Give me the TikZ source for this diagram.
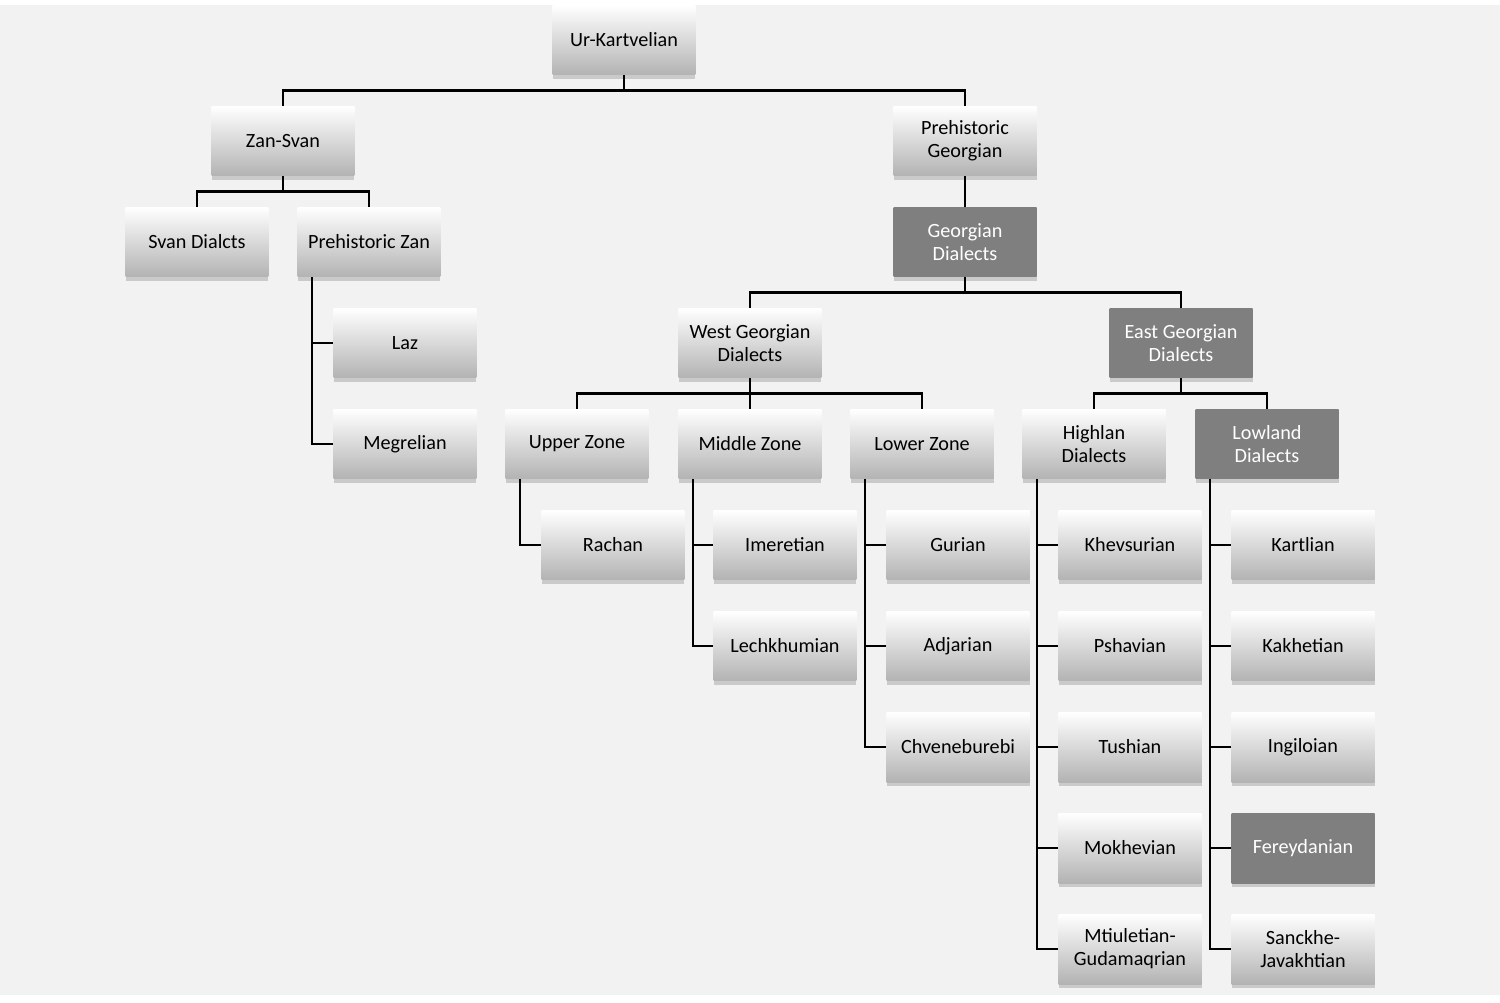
\documentclass[tikz,border=0pt]{standalone}
\usepackage{fontspec}
\setmainfont{Carlito}
\usetikzlibrary{shadows,calc}
\definecolor{bg}{HTML}{F2F2F2}
\definecolor{dark}{HTML}{7F7F7F}
\tikzset{
  box/.style={rectangle, minimum width=2.86cm, minimum height=1.4cm, align=center,
    font=\fontsize{11.5}{13}\selectfont, top color=white, bottom color=black!30,
    drop shadow={opacity=0.35, shadow xshift=0pt, shadow yshift=-2pt}},
  dbox/.style={box, top color=dark, bottom color=dark, text=white},
  link/.style={line width=1.2pt, black}
}
\begin{document}
\begin{tikzpicture}
  [x=0.02cm, y=-0.02cm]
  \useasboundingbox (0,0) rectangle (1500,1003);
  \fill[white] (0,0) rectangle (1500,1003);
  \fill[bg] (0,5) rectangle (1500,995);

  \node[box] (ur) at (624,40) {Ur-Kartvelian};
  \node[box] (zs) at (283,141) {Zan-Svan};
  \node[box] (pg) at (965,141) {Prehistoric\\Georgian};
  \node[box] (sd) at (197,242) {Svan Dialcts};
  \node[box] (pz) at (369,242) {Prehistoric Zan};
  \node[dbox] (gd) at (965,242) {Georgian\\Dialects};
  \node[box] (laz) at (405,343) {Laz};
  \node[box] (meg) at (405,444) {Megrelian};
  \node[box] (wg) at (750,343) {West Georgian\\Dialects};
  \node[dbox] (eg) at (1181,343) {East Georgian\\Dialects};

  \node[box] (uz) at (577,444) {Upper Zone};
  \node[box] (mz) at (750,444) {Middle Zone};
  \node[box] (lz) at (922,444) {Lower Zone};
  \node[box] (hd) at (1094,444) {Highlan\\Dialects};
  \node[dbox] (ld) at (1267,444) {Lowland\\Dialects};

  \node[box] (rac) at (613,545) {Rachan};
  \node[box] (ime) at (785,545) {Imeretian};
  \node[box] (lec) at (785,646) {Lechkhumian};
  \node[box] (gur) at (958,545) {Gurian};
  \node[box] (adj) at (958,646) {Adjarian};
  \node[box] (chv) at (958,747) {Chveneburebi};
  \node[box] (khe) at (1130,545) {Khevsurian};
  \node[box] (psh) at (1130,646) {Pshavian};
  \node[box] (tus) at (1130,747) {Tushian};
  \node[box] (mok) at (1130,848) {Mokhevian};
  \node[box] (mti) at (1130,949) {Mtiuletian-\\Gudamaqrian};
  \node[box] (kar) at (1303,545) {Kartlian};
  \node[box] (kak) at (1303,646) {Kakhetian};
  \node[box] (ing) at (1303,747) {Ingiloian};
  \node[dbox] (fer) at (1303,848) {Fereydanian};
  \node[box] (san) at (1303,949) {Sanckhe-\\Javakhtian};

  % tree buses
  \foreach \p/\c in {ur/zs, ur/pg, zs/sd, zs/pz, pg/gd, gd/wg, gd/eg, wg/uz, wg/mz, wg/lz, eg/hd, eg/ld}
    \draw[link] (\p.south) |- ($(\p.south)!0.5!(\c.north)$) -| (\c.north);

  % side branches
  \foreach \p/\c in {pz/laz, pz/meg, uz/rac, mz/ime, mz/lec, lz/gur, lz/adj, lz/chv,
                     hd/khe, hd/psh, hd/tus, hd/mok, hd/mti,
                     ld/kar, ld/kak, ld/ing, ld/fer, ld/san}
    \draw[link] ([xshift=0.3cm]\p.south west) |- (\c.west);
\end{tikzpicture}
\end{document}
